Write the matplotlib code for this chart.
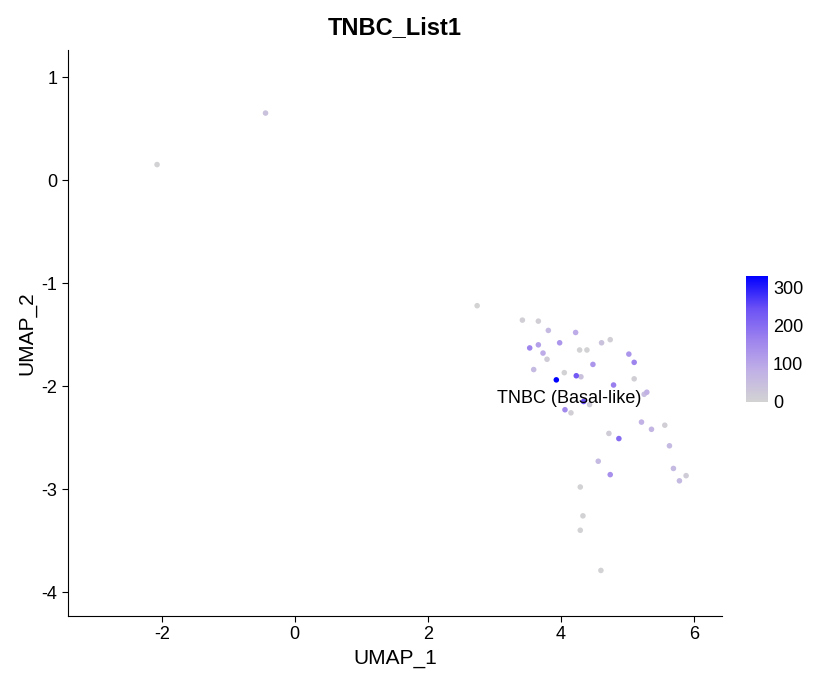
import matplotlib
matplotlib.use("Agg")
import matplotlib.pyplot as plt
import numpy as np
from matplotlib.colors import LinearSegmentedColormap

plt.rcParams["font.family"] = ["Liberation Sans", "DejaVu Sans"]
plt.rcParams["axes.unicode_minus"] = False

umap_1 = [-2.07, -0.44, 2.74, 3.42, 3.66, 3.81, 4.22, 3.53, 3.66, 3.98, 4.61, 4.74, 3.73, 3.79,
          4.28, 4.39, 5.02, 5.10, 4.48, 3.59, 4.05, 3.93, 4.23, 4.30, 4.79, 5.10, 5.29, 5.25,
          4.34, 4.43, 4.06, 4.15, 5.21, 5.36, 5.56, 4.72, 4.87, 5.63, 4.56, 4.74, 5.69, 5.78,
          5.88, 4.29, 4.33, 4.29, 4.60]
umap_2 = [0.15, 0.65, -1.22, -1.36, -1.37, -1.46, -1.48, -1.63, -1.60, -1.58, -1.58, -1.55, -1.68,
          -1.74, -1.65, -1.65, -1.69, -1.77, -1.79, -1.84, -1.87, -1.94, -1.90, -1.91, -1.99,
          -1.93, -2.06, -2.08, -2.15, -2.18, -2.23, -2.26, -2.35, -2.42, -2.38, -2.46, -2.51,
          -2.58, -2.73, -2.86, -2.80, -2.92, -2.87, -2.98, -3.26, -3.40, -3.79]
expr = [5, 40, 0, 10, 10, 60, 90, 160, 110, 130, 40, 10, 90, 20, 5, 5, 130, 160, 130, 60, 5,
        330, 230, 40, 170, 10, 80, 50, 250, 20, 150, 10, 80, 70, 10, 20, 200, 60, 60, 140,
        60, 60, 20, 5, 5, 5, 5]

cmap = LinearSegmentedColormap.from_list(
    "grey_blue", ["#d3d3d3", "#c0b0e6", "#9c82ee", "#6a4ff5", "#0000ff"])

fig = plt.figure(figsize=(8.28, 6.88), dpi=100)
ax = fig.add_axes([0.082, 0.105, 0.79, 0.822])
order = np.argsort(expr)
sc = ax.scatter(np.array(umap_1)[order], np.array(umap_2)[order], c=np.array(expr)[order],
                cmap=cmap, vmin=0, vmax=330, s=16, linewidths=0)
ax.text(4.12, -2.12, "TNBC (Basal-like)", ha="center", va="center", fontsize=13)

ax.set_xlim(-3.41, 6.42)
ax.set_ylim(-4.23, 1.26)
ax.set_xticks([-2, 0, 2, 4, 6])
ax.set_yticks([1, 0, -1, -2, -3, -4])
ax.tick_params(labelsize=13, length=4)
ax.spines["top"].set_visible(False)
ax.spines["right"].set_visible(False)
ax.set_xlabel("UMAP_1", fontsize=15)
ax.set_ylabel("UMAP_2", fontsize=15)
ax.set_title("TNBC_List1", fontsize=17, fontweight="bold", pad=12)

cax = fig.add_axes([746 / 828, (688 - 402) / 688, 22 / 828, 126 / 688])
cb = fig.colorbar(sc, cax=cax, ticks=[0, 100, 200, 300])
cb.outline.set_visible(False)
cb.ax.tick_params(labelsize=13, length=0)

fig.savefig("out.png", dpi=100)
